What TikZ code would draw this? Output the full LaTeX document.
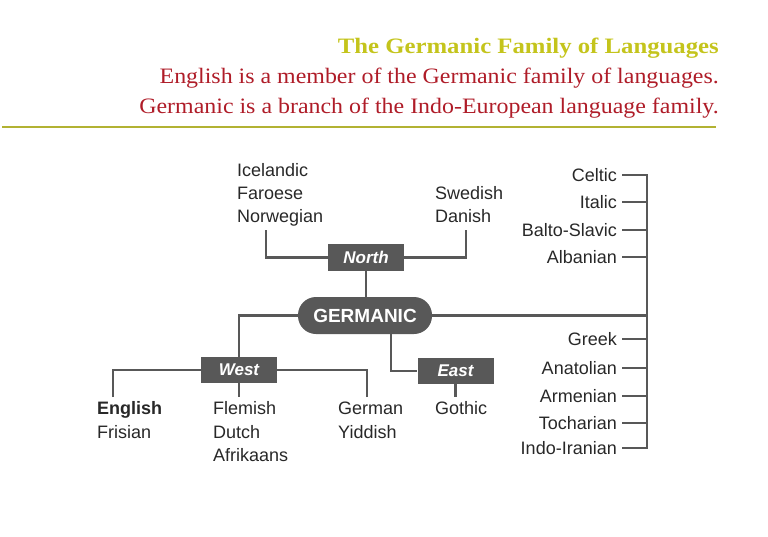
\documentclass[tikz,border=0pt]{standalone}
\usepackage{fontspec}
\setmainfont{Liberation Sans}
\newfontfamily\headfont[FakeStretch=1.087]{Liberation Serif}
\newfontfamily\titlefont[FakeStretch=1.125]{Liberation Serif}
\usetikzlibrary{positioning}

\definecolor{boxgray}{RGB}{88,88,88}
\definecolor{txtgray}{RGB}{40,40,40}
\definecolor{headred}{RGB}{175,28,40}
\definecolor{headyellow}{RGB}{196,196,28}
\definecolor{rulecol}{RGB}{178,178,50}

\tikzset{
  conn/.style={boxgray, line width=2.8pt},
  branch/.style={fill=boxgray, text=white, minimum width=76pt, minimum height=26.5pt,
    inner sep=0pt, font=\fontsize{17}{17}\selectfont\bfseries\itshape},
  root/.style={fill=boxgray, text=white, rounded corners=18pt, minimum width=134pt,
    minimum height=37pt, inner sep=0pt, font=\fontsize{19}{19}\selectfont\bfseries},
  lang/.style={text=txtgray, inner sep=0pt, text height=13pt, text depth=0pt,
    font=\fontsize{18}{18}\selectfont},
  head/.style={anchor=base east, inner sep=0pt, font=\headfont\fontsize{22}{22}\selectfont},
}

\begin{document}
\begin{tikzpicture}[x=1pt,y=-1pt]
\useasboundingbox (0,0) rectangle (768,536);

% heading
\node[head, headyellow, font=\titlefont\fontsize{22}{22}\selectfont\bfseries] (title) at (719,53) {The Germanic Family of Languages};
\node[head, headred] (subone) at (719,83) {English is a member of the Germanic family of languages.};
\node[head, headred] (subtwo) at (719,113) {Germanic is a branch of the Indo-European language family.};
\coordinate (ruleL) at (2,127);
\coordinate (ruleR) at (716,127);
\draw[rulecol, line width=2pt] (ruleL) -- (ruleR);

% branches
\node[branch] (north) at (366,257.5) {North};
\node[root] (germ) at (365,315.5) {GERMANIC};
\node[branch] (west) at (239,370) {West};
\node[branch] (east) at (455.5,371) {East};

% languages
\node[lang, anchor=west] (icelandic) at (237,170) {Icelandic};
\node[lang, anchor=west] (faroese) at (237,193) {Faroese};
\node[lang, anchor=west] (norwegian) at (237,216) {Norwegian};
\node[lang, anchor=west] (swedish) at (435,193) {Swedish};
\node[lang, anchor=west] (danish) at (435,216) {Danish};
\node[lang, anchor=west, font=\fontsize{18}{18}\selectfont\bfseries] (english) at (97,408) {English};
\node[lang, anchor=west] (frisian) at (97,432) {Frisian};
\node[lang, anchor=west] (flemish) at (213,408) {Flemish};
\node[lang, anchor=west] (dutch) at (213,432) {Dutch};
\node[lang, anchor=west] (afrikaans) at (213,455) {Afrikaans};
\node[lang, anchor=west] (german) at (338,408) {German};
\node[lang, anchor=west] (yiddish) at (338,432) {Yiddish};
\node[lang, anchor=west] (gothic) at (435,408) {Gothic};

% other branches
\node[lang, anchor=east] (celtic) at (617,175) {Celtic};
\node[lang, anchor=east] (italic) at (617,202) {Italic};
\node[lang, anchor=east] (baltoslavic) at (617,230) {Balto-Slavic};
\node[lang, anchor=east] (albanian) at (617,257) {Albanian};
\node[lang, anchor=east] (greek) at (617,339) {Greek};
\node[lang, anchor=east] (anatolian) at (617,368) {Anatolian};
\node[lang, anchor=east] (armenian) at (617,396) {Armenian};
\node[lang, anchor=east] (tocharian) at (617,423) {Tocharian};
\node[lang, anchor=east] (indoiranian) at (617,448) {Indo-Iranian};

% free ends
\coordinate (nordicfoot) at (266,230);
\coordinate (swedfoot) at (466,230);
\coordinate (engtop) at (113,397);
\coordinate (flemtop) at (239,397);
\coordinate (germtop) at (367,397);
\coordinate (gothtop) at (455.5,397);
\coordinate (brk) at (647,315);

% connectors
\draw[conn] (nordicfoot) |- (north.west);
\draw[conn] (swedfoot) |- (north.east);
\draw[conn] (north.south) -- (north.south |- germ.north);
\draw[conn] (germ.west) -| (west.north);
\draw[conn] (engtop) |- (west.west);
\draw[conn] (germtop) |- (west.east);
\draw[conn] (west.south) -- (flemtop);
\draw[conn] ([xshift=26pt]germ.south) |- (east.west);
\draw[conn] (east.south) -- (gothtop);
\draw[conn] (germ.east) -- (germ.east -| brk);
\draw[conn] ([xshift=5pt]celtic.east) -| (brk) |- ([xshift=5pt]indoiranian.east);
\draw[conn] ([xshift=5pt]italic.east) -- (italic.east -| brk);
\draw[conn] ([xshift=5pt]baltoslavic.east) -- (baltoslavic.east -| brk);
\draw[conn] ([xshift=5pt]albanian.east) -- (albanian.east -| brk);
\draw[conn] ([xshift=5pt]greek.east) -- (greek.east -| brk);
\draw[conn] ([xshift=5pt]anatolian.east) -- (anatolian.east -| brk);
\draw[conn] ([xshift=5pt]armenian.east) -- (armenian.east -| brk);
\draw[conn] ([xshift=5pt]tocharian.east) -- (tocharian.east -| brk);
\end{tikzpicture}
\end{document}
